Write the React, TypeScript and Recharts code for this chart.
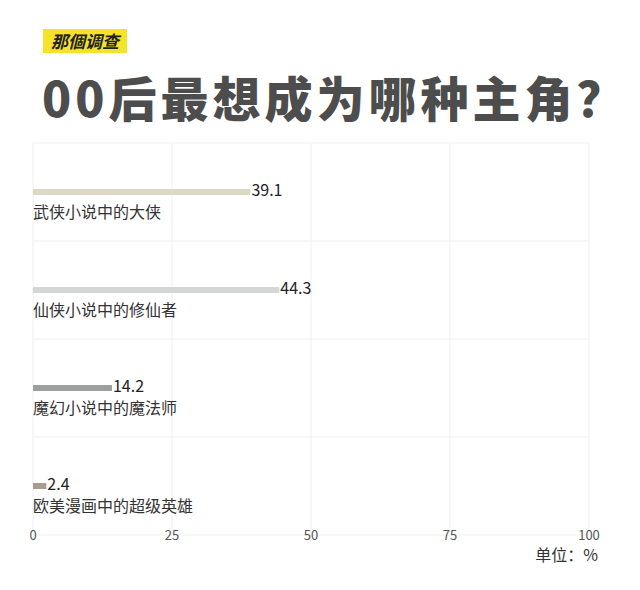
import { BarChart, Bar, XAxis, YAxis, CartesianGrid, Cell, LabelList } from 'recharts'

const categories = ['武侠小说中的大侠', '仙侠小说中的修仙者', '魔幻小说中的魔法师', '欧美漫画中的超级英雄']
const values = [39.1, 44.3, 14.2, 2.4]
const barColors = ['#dcd9c6', '#d3d6d5', '#9c9f9e', '#a99c94']
const xTicks = [0, 25, 50, 75, 100]

const data = categories.map((name, i) => ({ name, value: values[i] }))

const FONT = '"Noto Sans CJK SC", "Noto Sans", sans-serif'

// custom tick so labels sit right on the bottom grid line
function XTick({ x, y, payload }: any) {
  return (
    <text x={x} y={y} dy={5} textAnchor="middle" fontSize={13} fill="#555" fontFamily={FONT}>
      {payload.value}
    </text>
  )
}

function CategoryLabel({ x, y, height, value }: any) {
  return (
    <text x={x} y={y + height + 23} fontSize={16} fill="#333" fontFamily={FONT}>
      {value}
    </text>
  )
}

function ValueLabel({ x, y, width, height, value }: any) {
  return (
    <text x={x + width + 1} y={y + height / 2 + 4} fontSize={16} fill="#222" fontFamily={FONT}>
      {value}
    </text>
  )
}

export default function App() {
  return (
    <div style={{ position: 'absolute', left: 0, top: 0, width: 640, height: 590, background: '#fff', fontFamily: FONT }}>
      <div
        style={{
          position: 'absolute',
          left: 43,
          top: 29,
          width: 84,
          height: 24,
          background: '#f7e22b',
          color: '#222',
          fontSize: 17,
          fontWeight: 700,
          fontStyle: 'italic',
          lineHeight: '24px',
          textAlign: 'center',
        }}
      >
        那個调查
      </div>
      <div
        style={{
          position: 'absolute',
          left: 42,
          top: 66,
          fontSize: 48,
          fontWeight: 900,
          color: '#4d4d4d',
          letterSpacing: 4,
          lineHeight: '60px',
          whiteSpace: 'nowrap',
        }}
      >
        00后最想成为哪种主角？
      </div>
      <div style={{ position: 'absolute', left: 0, top: 0 }}>
        <BarChart
          width={640}
          height={590}
          data={data}
          layout="vertical"
          margin={{ top: 143, right: 51, bottom: 25, left: 33 }}
        >
          <CartesianGrid
            stroke="#efefef"
            horizontalCoordinatesGenerator={({ offset }: any) =>
              categories.map((_, i) => offset.top + (i * offset.height) / categories.length).concat(offset.top + offset.height)
            }
          />
          <XAxis
            type="number"
            domain={[0, 100]}
            ticks={xTicks}
            axisLine={false}
            tickLine={false}
            tickSize={0}
            tickMargin={0}
            height={30}
            tick={<XTick />}
            interval={0}
          />
          <YAxis type="category" dataKey="name" hide />
          <Bar dataKey="value" barSize={6} isAnimationActive={false}>
            {data.map((d, i) => (
              <Cell key={d.name} fill={barColors[i]} />
            ))}
            <LabelList dataKey="name" content={<CategoryLabel />} />
            <LabelList dataKey="value" content={<ValueLabel />} />
          </Bar>
        </BarChart>
      </div>
      <div style={{ position: 'absolute', right: 42, top: 547, fontSize: 16, lineHeight: '14px', color: '#333' }}>单位：%</div>
    </div>
  )
}
